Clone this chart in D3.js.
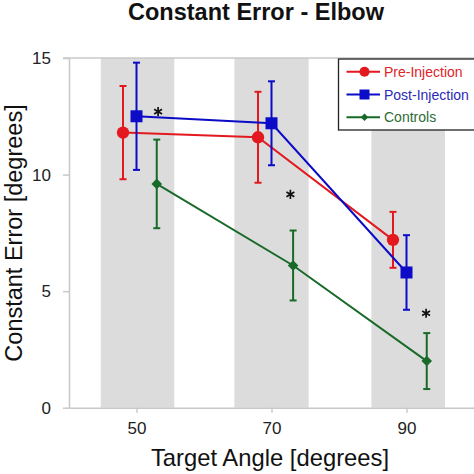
<!DOCTYPE html>
<html>
<head>
<meta charset="utf-8">
<script src="https://cdn.jsdelivr.net/npm/d3@7"></script>
<style>
  body { margin: 0; background: #fff; }
  text { font-family: "Liberation Sans", Arial, sans-serif; }
</style>
</head>
<body>
<div id="chart"></div>
<script>
// values
var angles = [50, 70, 90];
var preX = [48, 68, 88], preY = [11.8, 11.6, 7.2], preErr = [2.0, 1.95, 1.2];
var postX = [50, 70, 90], postY = [12.5, 12.2, 5.8], postErr = [2.3, 1.8, 1.6];
var ctrlX = [53, 73.2, 93], ctrlY = [9.6, 6.1, 2.0], ctrlErr = [1.9, 1.5, 1.2];
var bandRanges = [[44.7, 55.6], [64.5, 75.5], [84.8, 95.7]];
var starX = [53.2, 72.8, 92.9], starY = [12.7, 9.15, 4.05];
var yTicks = [0, 5, 10, 15];
var seriesNames = ["Pre-Injection", "Post-Injection", "Controls"];

var W = 474, H = 474;
var svg = d3.select("#chart").append("svg")
    .attr("width", W)
    .attr("height", H);

var x = d3.scaleLinear().domain([40, 100]).range([69, 474]);
var y = d3.scaleLinear().domain([0, 15]).range([407.7, 58]);

// grey bands behind each target angle
svg.selectAll("rect.band")
    .data(bandRanges)
    .enter().append("rect")
    .attr("class", "band")
    .attr("x", function(d) { return x(d[0]); })
    .attr("width", function(d) { return x(d[1]) - x(d[0]); })
    .attr("y", y(15))
    .attr("height", y(0) - y(15))
    .style("fill", "#dcdcdc");

// top frame line
svg.append("line")
    .attr("x1", x(40) - 6).attr("x2", W)
    .attr("y1", y(15)).attr("y2", y(15))
    .style("stroke", "#c8c8c8").style("stroke-width", 1.5);

// axes
var yAxis = svg.append("g")
    .attr("transform", "translate(" + x(40) + ",0)")
    .call(d3.axisLeft(y).tickValues(yTicks).tickSize(6).tickSizeOuter(0).tickPadding(12));
var xAxis = svg.append("g")
    .attr("transform", "translate(0," + y(0) + ")")
    .call(d3.axisBottom(x).tickValues(angles).tickSize(5).tickSizeOuter(0).tickPadding(9));
[xAxis, yAxis].forEach(function(a) {
    a.select(".domain").style("stroke", "#c8c8c8").style("stroke-width", 1.5);
    a.selectAll(".tick line").style("stroke", "#c8c8c8").style("stroke-width", 1.5);
    a.selectAll(".tick text")
        .style("font-family", "Liberation Sans, Arial, sans-serif")
        .style("font-size", "17px")
        .style("fill", "#222");
});

var series = [
    { name: seriesNames[0], xs: preX, ys: preY, es: preErr, color: "#e3191f", text: "#e0232a", symbol: d3.symbolCircle, size: 120, rot: 0, legSize: 80 },
    { name: seriesNames[1], xs: postX, ys: postY, es: postErr, color: "#0b0bc8", text: "#2a2ab8", symbol: d3.symbolSquare, size: 144, rot: 0, legSize: 100 },
    { name: seriesNames[2], xs: ctrlX, ys: ctrlY, es: ctrlErr, color: "#186a28", text: "#2d6b35", symbol: d3.symbolSquare, size: 56, rot: 45, legSize: 28 }
];

var line = d3.line()
    .x(function(d) { return x(d[0]); })
    .y(function(d) { return y(d[1]); });

series.forEach(function(s) {
    var pts = s.xs.map(function(v, i) { return [v, s.ys[i], s.es[i]]; });
    var g = svg.append("g");

    g.append("path")
        .datum(pts)
        .attr("d", line)
        .style("fill", "none")
        .style("stroke", s.color)
        .style("stroke-width", 2);

    // error bars
    var eb = g.selectAll("g.err").data(pts).enter().append("g");
    eb.append("line")
        .attr("x1", function(d) { return x(d[0]); })
        .attr("x2", function(d) { return x(d[0]); })
        .attr("y1", function(d) { return y(d[1] + d[2]); })
        .attr("y2", function(d) { return y(d[1] - d[2]); })
        .style("stroke", s.color).style("stroke-width", 2);
    [1, -1].forEach(function(sign) {
        eb.append("line")
            .attr("x1", function(d) { return x(d[0]) - 3.5; })
            .attr("x2", function(d) { return x(d[0]) + 3.5; })
            .attr("y1", function(d) { return y(d[1] + sign * d[2]); })
            .attr("y2", function(d) { return y(d[1] + sign * d[2]); })
            .style("stroke", s.color).style("stroke-width", 2);
    });

    g.selectAll("path.pt").data(pts).enter().append("path")
        .attr("d", d3.symbol().type(s.symbol).size(s.size))
        .attr("transform", function(d) {
            return "translate(" + x(d[0]) + "," + y(d[1]) + ") rotate(" + s.rot + ")";
        })
        .style("fill", s.color);
});

// significance markers
svg.selectAll("path.star")
    .data(starX.map(function(v, i) { return [v, starY[i]]; }))
    .enter().append("path")
    .attr("d", d3.symbol().type(d3.symbolAsterisk).size(58))
    .attr("transform", function(d) { return "translate(" + x(d[0]) + "," + y(d[1]) + ")"; })
    .style("fill", "none")
    .style("stroke", "#111")
    .style("stroke-width", 1.7);

// legend
var leg = svg.append("g").attr("transform", "translate(338.5,59)");
leg.append("rect")
    .attr("width", 140).attr("height", 71)
    .style("fill", "#fff").style("stroke", "#222").style("stroke-width", 1.3);
series.forEach(function(s, i) {
    var row = leg.append("g").attr("transform", "translate(0," + (12.7 + i * 22.8) + ")");
    row.append("line")
        .attr("x1", 8).attr("x2", 41.5)
        .style("stroke", s.color).style("stroke-width", 2);
    row.append("path")
        .attr("d", d3.symbol().type(s.symbol).size(s.legSize))
        .attr("transform", "translate(26,0) rotate(" + s.rot + ")")
        .style("fill", s.color);
    row.append("text")
        .attr("x", 45.5).attr("y", 5)
        .style("font-size", "14px")
        .style("fill", s.text)
        .text(s.name);
});

// titles
svg.append("text")
    .attr("x", 256).attr("y", 20)
    .attr("text-anchor", "middle")
    .style("font-size", "23.5px").style("font-weight", "bold").style("fill", "#111")
    .text("Constant Error - Elbow");
svg.append("text")
    .attr("x", 270).attr("y", 466)
    .attr("text-anchor", "middle")
    .style("font-size", "23.8px").style("fill", "#111")
    .text("Target Angle [degrees]");
svg.append("text")
    .attr("transform", "translate(21.5,233) rotate(-90)")
    .attr("text-anchor", "middle")
    .style("font-size", "23.5px").style("fill", "#111")
    .text("Constant Error [degrees]");
</script>
</body>
</html>
